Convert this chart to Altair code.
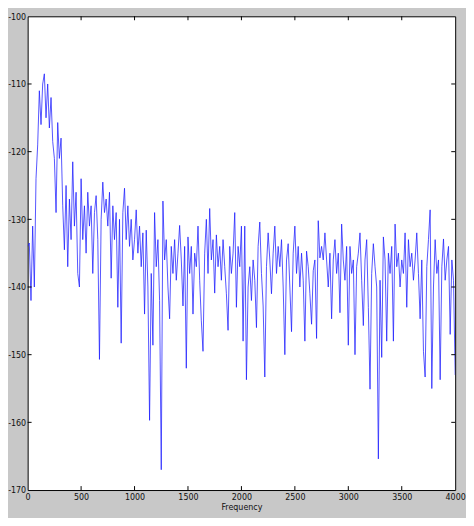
import altair as alt
import pandas as pd

# Spectrum values (dB), one per frequency bin of 15.625 Hz
power_db = [
    -134, -133.5, -142, -131, -140, -124, -119, -111, -116, -110, -108.5, -115, -110, -116.5, -112, -118.5,
    -121, -129, -115.7, -121, -118, -128, -134.5, -125, -137, -127, -133, -121.5, -131, -126, -138, -140,
    -124, -133, -128, -135, -126, -131, -128, -138, -129, -126.5, -133, -150.7, -130, -124.5, -129, -127,
    -131, -126, -138.7, -128, -133, -129, -143, -130, -148.3, -129, -125.4, -133, -128, -134, -130, -136,
    -133, -128.6, -135, -131, -137, -132, -144, -131.6, -140, -159.7, -138, -148.6, -129, -137, -133, -142,
    -167, -127.3, -136, -133, -140, -144.7, -134, -138, -133, -139, -135, -130.9, -136, -142.8, -134, -152,
    -132.6, -138, -134, -144, -135, -137, -131, -139, -145, -149.5, -135, -130, -138, -128.4, -136, -133,
    -140.9, -132.3, -137, -134, -139, -133, -137, -141, -146.4, -134, -138, -135, -129, -143, -134, -137,
    -131, -148, -131, -153.7, -140, -137, -142, -136, -139, -146, -134, -130.4, -138, -142.8, -153.3, -137,
    -132, -136, -141, -135, -131, -138, -134, -137, -133, -140, -150, -136, -133.6, -140, -146.6, -135,
    -131, -138, -134, -140, -135, -139, -148, -134.7, -137, -141, -145.5, -137.6, -136, -147.6, -130.2, -135.7,
    -134, -136, -132, -136, -140, -135, -144.7, -136, -133, -138, -135, -143.8, -130.7, -136, -139, -134,
    -148.6, -134, -138, -136, -150, -137, -135, -132, -139, -145.7, -136, -133, -143, -155.1, -138, -133.6,
    -137, -140, -165.4, -139, -150.4, -132.6, -136, -148, -135, -138, -134, -148, -130.7, -137, -135, -140,
    -136, -138, -132, -143, -133, -137, -135, -139, -136, -132, -138, -144.7, -136, -149.5, -153.3, -137,
    -133, -128.6, -155, -140, -133, -138, -136, -153.7, -137, -132.9, -139, -136, -134, -147, -136, -139,
    -153,
]
bin_width_hz = 15.625

x_tick_values = [0, 500, 1000, 1500, 2000, 2500, 3000, 3500, 4000]
y_tick_values = [-170, -160, -150, -140, -130, -120, -110, -100]
x_inner_ticks = [500, 1000, 1500, 2000, 2500, 3000, 3500]
y_inner_ticks = [-160, -150, -140, -130, -120, -110]

df = pd.DataFrame({
    "Frequency": [i * bin_width_hz for i in range(len(power_db))],
    "Power": power_db,
})
xt = pd.DataFrame({"Frequency": x_inner_ticks})
yt = pd.DataFrame({"Power": y_inner_ticks})

W, H = 435, 482
TL = 4
FONT = "DejaVu Sans Condensed, Liberation Sans, sans-serif"

xs = alt.Scale(domain=[0, 4000], nice=False, zero=False)
ys = alt.Scale(domain=[-170, -100], nice=False, zero=False)
x_axis = alt.Axis(values=x_tick_values, title="Frequency", ticks=False, domain=False,
                  grid=False, labelPadding=3, labelFlush=False, labelOverlap=False,
                  titlePadding=1, labelExpr="'' + datum.value")
y_axis = alt.Axis(values=y_tick_values, title=None, ticks=False, domain=False,
                  grid=False, labelPadding=2, labelFlush=False, labelOverlap=False,
                  labelExpr="'' + datum.value")
X = alt.X("Frequency:Q", scale=xs, axis=x_axis)
Y = alt.Y("Power:Q", scale=ys, axis=y_axis)

line = alt.Chart(df).mark_line(color="#1a1aff", strokeWidth=0.75, clip=True).encode(x=X, y=Y)

bottom_ticks = alt.Chart(xt).mark_rule(color="black", strokeWidth=1).encode(
    x=X, y=alt.value(H), y2=alt.value(H - TL))
top_ticks = alt.Chart(xt).mark_rule(color="black", strokeWidth=1).encode(
    x=X, y=alt.value(0), y2=alt.value(TL))
left_ticks = alt.Chart(yt).mark_rule(color="black", strokeWidth=1).encode(
    y=Y, x=alt.value(0), x2=alt.value(TL))
right_ticks = alt.Chart(yt).mark_rule(color="black", strokeWidth=1).encode(
    y=Y, x=alt.value(W), x2=alt.value(W - TL))

chart = alt.layer(line, bottom_ticks, top_ticks, left_ticks, right_ticks).properties(
    width=W, height=H,
    autosize="none",
    padding={"left": 20, "top": 4, "right": 11, "bottom": 24},
    background="#c8c8c8",
).configure_view(
    stroke="black", strokeWidth=1, fill="white"
).configure_axis(
    labelFont=FONT, labelFontSize=9, labelColor="#111111",
    titleFont=FONT, titleFontSize=9, titleColor="#111111", titleFontWeight="normal",
)

chart.save("out.html", embed_options={"renderer": "svg", "actions": False})
